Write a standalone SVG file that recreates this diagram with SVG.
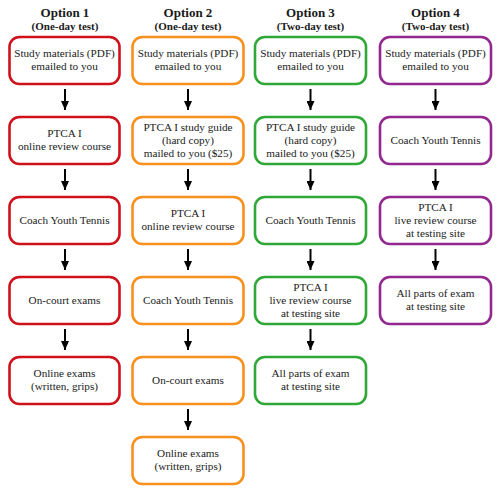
<svg xmlns="http://www.w3.org/2000/svg" width="500" height="491" viewBox="0 0 500 491">
<style>
.box{fill:#fff;stroke-width:2.6}
.r{stroke:#d0111b}.o{stroke:#f7901e}.g{stroke:#2ea836}.p{stroke:#92278f}
text{font-family:"Liberation Serif","Times New Roman",serif;fill:#1a1a1a;text-anchor:middle}
.t{font-size:11.2px}
.h1{font-size:13px;font-weight:bold}
.h2{font-size:11px;font-weight:bold}
.c{stroke:#000;stroke-width:2;fill:none;marker-end:url(#ah)}
</style>
<defs>
<marker id="ah" markerWidth="10" markerHeight="8" refX="9" refY="4" orient="auto" markerUnits="userSpaceOnUse">
<path d="M0,0 L9,4 L0,8 Z" fill="#000"/>
</marker>
</defs>
<rect width="500" height="491" fill="#fff"/>
<g id="headers">
<text class="h1" x="65" y="17">Option 1</text><text class="h2" x="65" y="30">(One-day test)</text>
<text class="h1" x="188" y="17">Option 2</text><text class="h2" x="188" y="30">(One-day test)</text>
<text class="h1" x="310.5" y="17">Option 3</text><text class="h2" x="310.5" y="30">(Two-day test)</text>
<text class="h1" x="435.5" y="17">Option 4</text><text class="h2" x="435.5" y="30">(Two-day test)</text>
</g>
<g id="connectors">
<path class="c" d="M65,89 V110"/><path class="c" d="M65,169 V190"/><path class="c" d="M65,249 V270"/><path class="c" d="M65,329 V350"/>
<path class="c" d="M188,89 V110"/><path class="c" d="M188,169 V190"/><path class="c" d="M188,249 V270"/><path class="c" d="M188,329 V350"/><path class="c" d="M188,409 V430"/>
<path class="c" d="M310.5,89 V110"/><path class="c" d="M310.5,169 V190"/><path class="c" d="M310.5,249 V270"/><path class="c" d="M310.5,329 V350"/>
<path class="c" d="M435.5,89 V110"/><path class="c" d="M435.5,169 V190"/><path class="c" d="M435.5,249 V270"/>
</g>
<!-- Column 1 -->
<g id="o1-1"><rect class="box r" x="9.5" y="37" width="110" height="47" rx="10"/><text class="t" x="64.5" y="57">Study materials (PDF)</text><text class="t" x="64.5" y="70">emailed to you</text></g>
<g id="o1-2"><rect class="box r" x="9.5" y="117" width="110" height="47" rx="10"/><text class="t" x="64.5" y="137">PTCA I</text><text class="t" x="64.5" y="150">online review course</text></g>
<g id="o1-3"><rect class="box r" x="9.5" y="197" width="110" height="47" rx="10"/><text class="t" x="64.5" y="224">Coach Youth Tennis</text></g>
<g id="o1-4"><rect class="box r" x="9.5" y="277" width="110" height="47" rx="10"/><text class="t" x="64.5" y="304">On-court exams</text></g>
<g id="o1-5"><rect class="box r" x="9.5" y="357" width="110" height="47" rx="10"/><text class="t" x="64.5" y="377">Online exams</text><text class="t" x="64.5" y="390">(written, grips)</text></g>
<!-- Column 2 -->
<g id="o2-1"><rect class="box o" x="132.5" y="37" width="111" height="47" rx="10"/><text class="t" x="188" y="57">Study materials (PDF)</text><text class="t" x="188" y="70">emailed to you</text></g>
<g id="o2-2"><rect class="box o" x="132.5" y="117" width="111" height="47" rx="10"/><text class="t" x="188" y="131">PTCA I study guide</text><text class="t" x="188" y="144">(hard copy)</text><text class="t" x="188" y="157">mailed to you ($25)</text></g>
<g id="o2-3"><rect class="box o" x="132.5" y="197" width="111" height="47" rx="10"/><text class="t" x="188" y="217">PTCA I</text><text class="t" x="188" y="230">online review course</text></g>
<g id="o2-4"><rect class="box o" x="132.5" y="277" width="111" height="47" rx="10"/><text class="t" x="188" y="304">Coach Youth Tennis</text></g>
<g id="o2-5"><rect class="box o" x="132.5" y="357" width="111" height="47" rx="10"/><text class="t" x="188" y="384">On-court exams</text></g>
<g id="o2-6"><rect class="box o" x="132.5" y="437" width="111" height="47" rx="10"/><text class="t" x="188" y="457">Online exams</text><text class="t" x="188" y="470">(written, grips)</text></g>
<!-- Column 3 -->
<g id="o3-1"><rect class="box g" x="255" y="37" width="111" height="47" rx="10"/><text class="t" x="310.5" y="57">Study materials (PDF)</text><text class="t" x="310.5" y="70">emailed to you</text></g>
<g id="o3-2"><rect class="box g" x="255" y="117" width="111" height="47" rx="10"/><text class="t" x="310.5" y="131">PTCA I study guide</text><text class="t" x="310.5" y="144">(hard copy)</text><text class="t" x="310.5" y="157">mailed to you ($25)</text></g>
<g id="o3-3"><rect class="box g" x="255" y="197" width="111" height="47" rx="10"/><text class="t" x="310.5" y="224">Coach Youth Tennis</text></g>
<g id="o3-4"><rect class="box g" x="255" y="277" width="111" height="47" rx="10"/><text class="t" x="310.5" y="291">PTCA I</text><text class="t" x="310.5" y="304">live review course</text><text class="t" x="310.5" y="317">at testing site</text></g>
<g id="o3-5"><rect class="box g" x="255" y="357" width="111" height="47" rx="10"/><text class="t" x="310.5" y="377">All parts of exam</text><text class="t" x="310.5" y="390">at testing site</text></g>
<!-- Column 4 -->
<g id="o4-1"><rect class="box p" x="380" y="37" width="111" height="47" rx="10"/><text class="t" x="435.5" y="57">Study materials (PDF)</text><text class="t" x="435.5" y="70">emailed to you</text></g>
<g id="o4-2"><rect class="box p" x="380" y="117" width="111" height="47" rx="10"/><text class="t" x="435.5" y="144">Coach Youth Tennis</text></g>
<g id="o4-3"><rect class="box p" x="380" y="197" width="111" height="47" rx="10"/><text class="t" x="435.5" y="211">PTCA I</text><text class="t" x="435.5" y="224">live review course</text><text class="t" x="435.5" y="237">at testing site</text></g>
<g id="o4-4"><rect class="box p" x="380" y="277" width="111" height="47" rx="10"/><text class="t" x="435.5" y="297">All parts of exam</text><text class="t" x="435.5" y="310">at testing site</text></g>
</svg>
